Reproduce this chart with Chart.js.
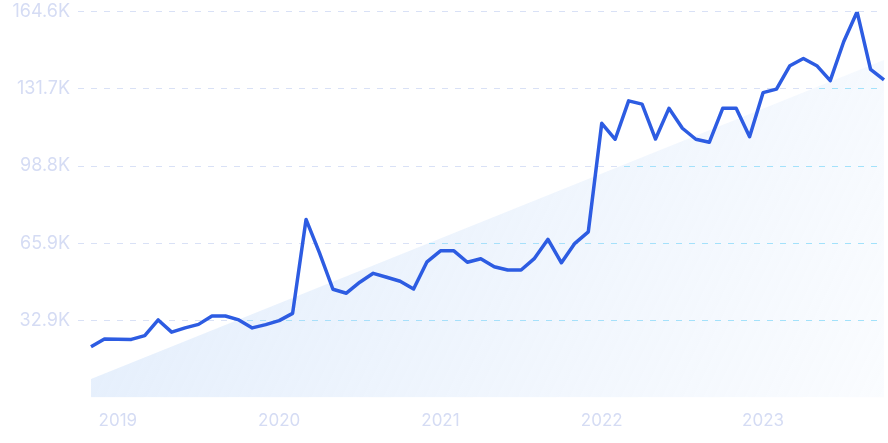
<!DOCTYPE html>
<html>
<head>
<meta charset="utf-8">
<script src="https://cdn.jsdelivr.net/npm/chart.js@4.4.0/dist/chart.umd.min.js"></script>
<style>
  html, body { margin: 0; padding: 0; background: #fff; overflow: hidden; }
  #wrap { width: 888px; height: 443px; position: relative; }
  canvas { display: block; }
</style>
</head>
<body>
<div id="wrap"><canvas id="grafico"></canvas></div>
<script>
// meses de nov/2018 a out/2023
const meses = [
  "2018-11", "2018-12",
  "2019-01", "2019-02", "2019-03", "2019-04", "2019-05", "2019-06", "2019-07", "2019-08", "2019-09", "2019-10", "2019-11", "2019-12",
  "2020-01", "2020-02", "2020-03", "2020-04", "2020-05", "2020-06", "2020-07", "2020-08", "2020-09", "2020-10", "2020-11", "2020-12",
  "2021-01", "2021-02", "2021-03", "2021-04", "2021-05", "2021-06", "2021-07", "2021-08", "2021-09", "2021-10", "2021-11", "2021-12",
  "2022-01", "2022-02", "2022-03", "2022-04", "2022-05", "2022-06", "2022-07", "2022-08", "2022-09", "2022-10", "2022-11", "2022-12",
  "2023-01", "2023-02", "2023-03", "2023-04", "2023-05", "2023-06", "2023-07", "2023-08", "2023-09", "2023-10"
];

// buscas (em milhares)
const valores = [
  21.7, 25.0, 24.9, 24.8, 26.4, 33.1, 27.9, 29.7, 31.2, 34.8, 34.8, 33.1, 29.7, 31.1,
  32.8, 35.9, 76.0, 61.7, 46.2, 44.5, 49.2, 53.0, 51.3, 49.6, 46.3, 57.9,
  62.6, 62.6, 57.7, 59.2, 55.8, 54.4, 54.4, 59.4, 67.5, 57.5, 65.8, 70.7,
  117.0, 110.2, 126.6, 125.2, 110.3, 123.4, 114.9, 110.2, 108.9, 123.4, 123.4, 111.3,
  130.1, 131.6, 141.6, 144.7, 141.6, 135.2, 151.8, 164.6, 140.0, 135.5
];

// linha de tendência: só o começo e o fim
const tendenciaInicio = 7.9;
const tendenciaFim = 144.0;

const eixoMax = 164.64;
const eixoPasso = 32.928;

const corTexto = "#d5dcf4";
const corGradeFora = "#d9e1f6";
const corGradeDentro = "#9fe3fb";

const tendencia = meses.map((m, i) => {
  if (i === 0) return tendenciaInicio;
  if (i === meses.length - 1) return tendenciaFim;
  return null;
});

// grade muda de cor onde passa pela área da tendência
function corGrade(context) {
  const chart = context.chart;
  const area = chart.chartArea;
  if (!area) return corGradeFora;
  if (context.tick && context.tick.value === 0) return "transparent";
  const x = chart.scales.x;
  const y = chart.scales.y;
  const ax = x.getPixelForValue(0), ay = y.getPixelForValue(tendenciaInicio);
  const bx = x.getPixelForValue(meses.length - 1), by = y.getPixelForValue(tendenciaFim);
  let nx = -(by - ay), ny = bx - ax;
  const len = Math.hypot(nx, ny);
  nx /= len; ny /= len;
  const px = (ax + bx) / 2, py = (ay + by) / 2;
  const g = chart.ctx.createLinearGradient(px - nx * 2, py - ny * 2, px + nx * 2, py + ny * 2);
  g.addColorStop(0, corGradeFora);
  g.addColorStop(0.5, corGradeFora);
  g.addColorStop(0.5, corGradeDentro);
  g.addColorStop(1, corGradeDentro);
  return g;
}

function fundoTendencia(context) {
  const area = context.chart.chartArea;
  if (!area) return "rgba(190,215,248,0.3)";
  const g = context.chart.ctx.createLinearGradient(area.left, area.top, area.right, area.bottom);
  g.addColorStop(0, "rgba(190,215,248,0.45)");
  g.addColorStop(1, "rgba(190,215,248,0.08)");
  return g;
}

const ctx = document.getElementById("grafico").getContext("2d");

new Chart(ctx, {
  type: "line",
  data: {
    labels: meses,
    datasets: [
      {
        data: valores,
        borderColor: "#2d5ce2",
        borderWidth: 3.5,
        pointRadius: 0,
        tension: 0,
        fill: false,
        borderJoinStyle: "round",
      },
      {
        data: tendencia,
        spanGaps: true,
        borderWidth: 0,
        pointRadius: 0,
        fill: "origin",
        backgroundColor: fundoTendencia,
      },
    ],
  },
  options: {
    responsive: true,
    maintainAspectRatio: false,
    animation: false,
    layout: { padding: { left: 0, right: 4, top: 11.7, bottom: 0 } },
    plugins: { legend: { display: false }, tooltip: { enabled: false } },
    scales: {
      x: {
        grid: { display: false, drawTicks: false },
        border: { display: false },
        ticks: {
          autoSkip: false,
          maxRotation: 0,
          padding: 13,
          color: corTexto,
          font: { family: "Inter", size: 17 },
          callback: function (v, i) {
            const m = meses[i];
            return m.endsWith("-01") ? m.slice(0, 4) : "";
          },
        },
        afterFit: (scale) => {
          scale.height = 45.5;
          scale.paddingLeft = 0;
          scale.paddingRight = 0;
        },
      },
      y: {
        min: 0,
        max: eixoMax,
        border: { display: false, dash: [6, 7] },
        grid: {
          color: corGrade,
          tickColor: corGrade,
          lineWidth: 1,
          tickLength: 13,
          tickBorderDash: [6, 7],
        },
        ticks: {
          stepSize: eixoPasso,
          padding: 8,
          color: corTexto,
          font: { family: "Inter", size: 18 },
          callback: (v) => (v === 0 ? "" : (v).toFixed(1) + "K"),
        },
        afterFit: (scale) => {
          scale.width = 91;
          scale.paddingTop = 0;
          scale.paddingBottom = 0;
        },
      },
    },
  },
});
</script>
</body>
</html>
